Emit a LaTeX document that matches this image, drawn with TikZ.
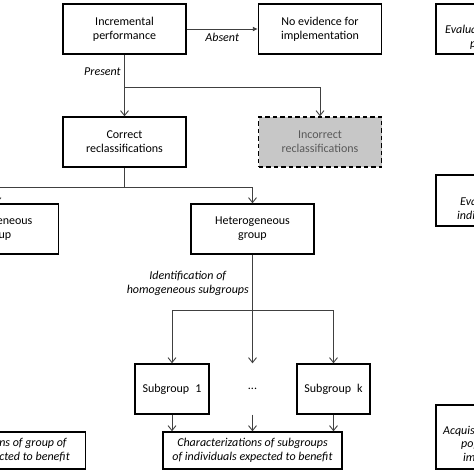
\documentclass[tikz,border=0pt]{standalone}
\usepackage{fontspec}
\setmainfont{Carlito}
\usetikzlibrary{arrows.meta}

\begin{document}
\begin{tikzpicture}[x=1pt,y=-1pt]
      \useasboundingbox (0,0) rectangle (474,474);
      \clip (0,0) rectangle (474,474);
      \tikzset{B/.style = {shape=rectangle, draw, line width=1.4pt, minimum width=123pt, minimum height=50pt, inner sep=2pt, align=center, font=\fontsize{12}{14}\selectfont}}
      \tikzset{E/.style = {draw=black!75, line width=0.9pt, -{Straight Barb[length=5pt,width=8pt]}}}
      \tikzset{L/.style = {font=\fontsize{12}{14}\selectfont\itshape}}
      % top row
      \node[B](inc) at (124.5,29) {Incremental\\performance};
      \node[B](noev) at (320,29) {No evidence for\\implementation};
      \node[B](corr) at (124.5,142) {Correct\\reclassifications};
      \node[B,dashed,dash pattern=on 4.5pt off 3pt,fill=black!22,text=black!65](incorr) at (320,142) {Incorrect\\reclassifications};
      \node[B](homo) at (-3,229) {Homogeneous\\group};
      \node[B](het) at (252.5,229) {Heterogeneous\\group};
      % subgroups
      \node[B,minimum width=74pt](sg1) at (172,389) {Subgroup\enspace 1};
      \node[B,draw=none,minimum width=20pt](sgd) at (252.5,389) {...};
      \node[B,minimum width=73pt](sgk) at (333.5,389) {Subgroup\enspace k};
      \node[B,L,minimum width=179pt,minimum height=37pt](chs) at (252.5,450.5) {Characterizations of subgroups\\of individuals expected to benefit};
      \node[B,L,minimum width=179pt,minimum height=37pt](chg) at (-4,450.5) {Characterizations of group of\\individuals expected to benefit};
      % right column
      \node[B](r1) at (497.5,29) {};
      \node[B,minimum height=51pt](r2) at (497.5,200.5) {};
      \node[B,minimum height=64pt](r3) at (497.5,437) {};
      \node[L,anchor=base west,inner sep=0](r1a) at (445,33) {Evaluation};
      \node[L,anchor=base west,inner sep=0](r1b) at (470,47) {performance};
      \node[L,anchor=base west,inner sep=0](r2a) at (460,205) {Evaluation};
      \node[L,anchor=base west,inner sep=0](r2b) at (457,219) {individual};
      \node[L,anchor=base west,inner sep=0](r3a) at (443,434) {Acquisition};
      \node[L,anchor=base west,inner sep=0](r3b) at (461,447) {population};
      \node[L,anchor=base west,inner sep=0](r3c) at (463,461) {impact};
      \coordinate (s1) at (124.5,87);
      \coordinate (s2) at (124.5,187);
      \coordinate (s3) at (252.5,310);
      \draw[E,-{Latex[length=5pt,width=5pt]}](inc) to node[midway,below,L]{Absent} (noev);
      \draw[E](inc) to node[pos=0.27,left,L]{Present} (corr);
      \draw[E](s1) -| (incorr);
      \draw[E,-](corr) to (s2);
      \draw[E](s2) -| (homo);
      \draw[E](s2) -| (het);
      \draw[E,-](het) to node[pos=0.52,left,L,align=center]{Identification of\\homogeneous subgroups} (s3);
      \draw[E](s3) -| (sg1);
      \draw[E](s3) to (sgd);
      \draw[E](s3) -| (sgk);
      \draw[E](sg1) to (sg1 |- chs.north);
      \draw[E](sgd) to (sgd |- chs.north);
      \draw[E](sgk) to (sgk |- chs.north);
    \end{tikzpicture}
\end{document}
